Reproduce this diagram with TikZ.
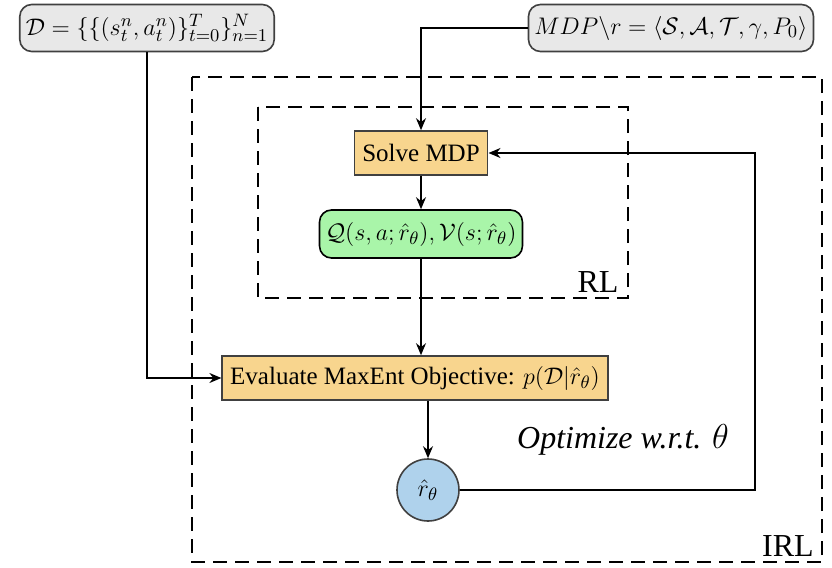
\documentclass[tikz,border=0pt]{standalone}
\usepackage{fontspec}
\setmainfont{Liberation Serif}
\usetikzlibrary{arrows.meta}
\definecolor{boxgray}{HTML}{E8E8E8}
\definecolor{boxorange}{HTML}{F8D58E}
\definecolor{boxgreen}{HTML}{A9F5A9}
\definecolor{boxblue}{HTML}{AFD2EC}
\begin{document}
\begin{tikzpicture}[x=0.5pt,y=-0.5pt,font=\fontsize{12.5}{14}\selectfont,
    given/.style={draw=black!75,thick,rounded corners=6pt,fill=boxgray,minimum height=23.5pt,inner xsep=3pt},
    task/.style={draw=black!75,thick,fill=boxorange,minimum height=22pt,inner xsep=4pt},
    value/.style={draw=black,thick,rounded corners=6pt,fill=boxgreen,minimum height=24pt,inner xsep=3pt},
    param/.style={draw=black!75,thick,circle,fill=boxblue,minimum size=31pt,inner sep=0pt},
    frame/.style={thick,dash pattern=on 7pt off 4pt},
    link/.style={thick,-{Stealth[length=6pt,width=5pt]}}]

    % bounding box
    \useasboundingbox (0,0) rectangle (832,568);

    % frames
    \draw[frame] (192,77) rectangle (822,562);
    \draw[frame] (258,107) rectangle (628,298);
    \node[font=\fontsize{16}{18}\selectfont] at (788,546) {IRL};
    \node[font=\fontsize{16}{18}\selectfont] at (598,282) {RL};
    \node[font=\fontsize{16}{18}\selectfont\itshape] at (623,440) {Optimize w.r.t. $\theta$};

    % nodes
    \node[given] (data) at (147,28) {$\mathcal{D}=\{\{(s^n_t,a^n_t)\}_{t=0}^{T}\}_{n=1}^{N}$};
    \node[given] (mdp) at (671,28) {$MDP\backslash r=\langle\mathcal{S},\mathcal{A},\mathcal{T},\gamma,P_0\rangle$};
    \node[task] (solve) at (421,153) {Solve MDP};
    \node[value] (qv) at (421,234) {$\mathcal{Q}(s,a;\hat r_\theta),\mathcal{V}(s;\hat r_\theta)$};
    \node[task] (eval) at (415,378) {Evaluate MaxEnt Objective: $p(\mathcal{D}|\hat r_\theta)$};
    \node[param] (r) at (428,490) {$\hat r_\theta$};

    % connectors
    \draw[link] (mdp.west) -| (solve.north);
    \draw[link] (solve) -- (qv);
    \draw[link] (qv.south) -- (qv.south|-eval.north);
    \draw[link] (data.south) |- (eval.west);
    \draw[link] (r.north|-eval.south) -- (r.north);
    \draw[link] (r.east) -- (755,490) |- (solve.east);

\end{tikzpicture}
\end{document}
